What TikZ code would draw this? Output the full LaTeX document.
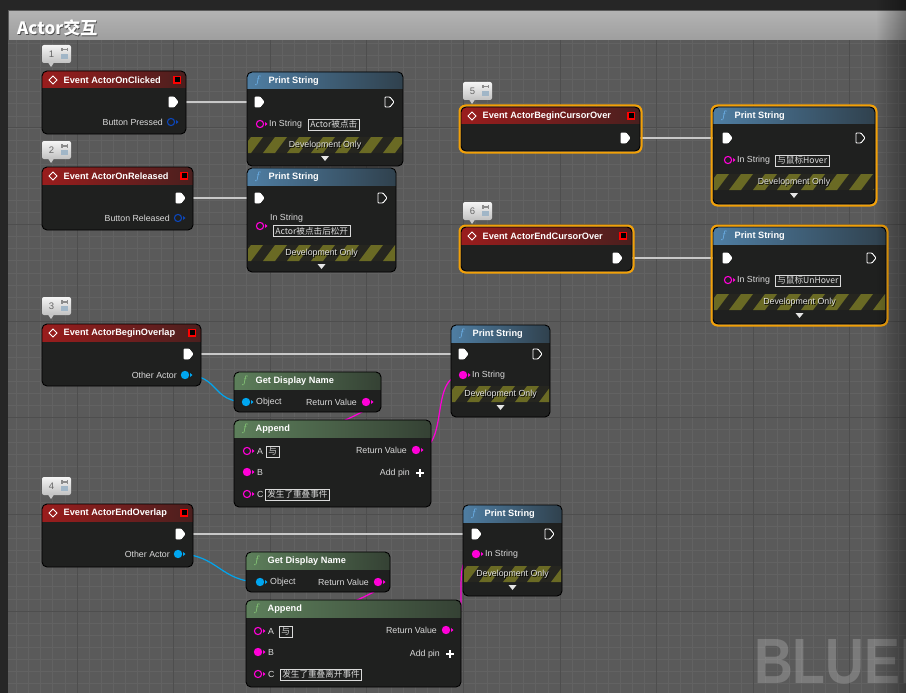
\documentclass[tikz,border=0pt]{standalone}
\usepackage{fontspec}
\setmainfont{Liberation Sans}
\newfontfamily\cjk{Noto Sans CJK SC}
\usepackage{tikz}
\usetikzlibrary{fadings}

\definecolor{outerbg}{HTML}{262626}
\definecolor{combg}{HTML}{5A5A5A}
\definecolor{gridminor}{HTML}{626262}
\definecolor{gridmajor}{HTML}{4E4E4E}
\definecolor{commhead}{HTML}{A4A4A4}
\definecolor{nodebg}{HTML}{1F201F}
\definecolor{evred}{HTML}{9A1D1D}
\definecolor{psblue}{HTML}{4F7EA3}
\definecolor{fngreen}{HTML}{5D7F5B}
\definecolor{iconblue}{HTML}{6FB6F0}
\definecolor{icongreen}{HTML}{8AD07A}
\definecolor{stripeolive}{HTML}{6A6A24}
\definecolor{stripedark}{HTML}{26261F}
\definecolor{pinmagenta}{HTML}{FF00D8}
\definecolor{objcyan}{HTML}{00A6F0}
\definecolor{boolblue}{HTML}{0C46B8}
\definecolor{labelgray}{HTML}{DADADA}
\definecolor{wirewhite}{HTML}{C8C8C8}
\definecolor{selorange}{HTML}{F2A007}

\pgfdeclarelayer{grid}
\pgfdeclarelayer{wires}
\pgfsetlayers{grid,wires,main}

\tikzset{
  hdrtext/.style={font=\fontsize{9.2}{10}\selectfont\bfseries, text=white, inner sep=0pt, anchor=west},
  pinlabel/.style={font=\fontsize{8.8}{10}\selectfont, text=labelgray, inner sep=0pt},
  valbox/.style={draw=labelgray, line width=0.6pt, font=\cjk\fontsize{8.6}{9}\selectfont, text=labelgray, inner xsep=2pt, inner ysep=1.5pt, anchor=west},
  execwire/.style={draw=wirewhite, line width=1.5pt},
  strwire/.style={draw=pinmagenta, line width=1.2pt},
  objwire/.style={draw=objcyan, line width=1.2pt},
  selring/.style={draw=selorange, line width=2pt, rounded corners=6pt},
}

% node body: name, x1, y1, x2, y2, header colour, title
\newcommand{\bpnode}[7]{%
  \fill[nodebg, rounded corners=5pt] (#2,#3) rectangle (#4,#5);
  \begin{scope}
    \clip[rounded corners=5pt] (#2,#3) rectangle (#4,#5);
    \shade[left color=#6, right color=#6!35!nodebg] (#2,#3) rectangle (#4,#3+17);
  \end{scope}
  \draw[black, line width=0.9pt, rounded corners=5pt] (#2,#3) rectangle (#4,#5);
  \node[hdrtext] (#1) at (#2+21.5,#3+9) {#7};
}
% event node: name, x1, y1, x2, y2, title
\newcommand{\eventnode}[6]{%
  \bpnode{#1}{#2}{#3}{#4}{#5}{evred}{#6}
  \draw[white, line width=1pt] (#2+7,#3+9) -- (#2+11,#3+5) -- (#2+15,#3+9) -- (#2+11,#3+13) -- cycle;
  \filldraw[draw=red, fill=black, line width=1.2pt] (#4-12,#3+5.5) rectangle (#4-5.5,#3+12);
}
% function node: name, x1, y1, x2, y2, header colour, icon colour, title
\newcommand{\funcnode}[8]{%
  \bpnode{#1}{#2}{#3}{#4}{#5}{#6}{#8}
  \node[text=#7, inner sep=0pt, font=\fontsize{11}{11}\selectfont] at (#2+11,#3+9) {$f$};
}
% exec pin: name, x, y, fill
\newcommand{\execpin}[4]{%
  \coordinate (#1) at (#2,#3);
  \filldraw[draw=white, fill=#4, line width=0.9pt, rounded corners=0.8pt]
    (#2-4,#3-5) -- (#2+1,#3-5) -- (#2+5,#3) -- (#2+1,#3+5) -- (#2-4,#3+5) -- cycle;
}
% data pin: name, x, y, colour, fill
\newcommand{\datapin}[5]{%
  \coordinate (#1) at (#2,#3);
  \filldraw[draw=#4, fill=#5, line width=1.1pt] (#1) circle (3.6pt);
  \fill[#4] (#2+5,#3-2) -- (#2+7.5,#3) -- (#2+5,#3+2) -- cycle;
}
% development band: x1, x2, ytop
\newcommand{\devband}[3]{%
  \begin{scope}
    \clip (#1+1,#3) rectangle (#2-1,#3+16);
    \fill[stripedark] (#1,#3) rectangle (#2,#3+16);
    \foreach \s in {0,24,...,240}
      \fill[stripeolive] (#1+\s-8,#3+16) -- (#1+\s+4,#3+16) -- (#1+\s+16,#3) -- (#1+\s+4,#3) -- cycle;
  \end{scope}
  \node[pinlabel, text=black] at ({(#1+#2)/2+0.8},#3+8.8) {Development Only};
  \node[pinlabel, text=white!88!black] at ({(#1+#2)/2},#3+8) {Development Only};
  \fill[white!90!black] ({(#1+#2)/2-4},#3+19) -- ({(#1+#2)/2+4},#3+19) -- ({(#1+#2)/2},#3+24) -- cycle;
}
% comment bubble: name, x, y, number
\newcommand{\bubble}[4]{%
  \shade[top color=white!96!black, bottom color=white!76!black, rounded corners=2pt] (#2,#3) rectangle (#2+29,#3+18);
  \fill[white!78!black] (#2+6,#3+17.5) -- (#2+9,#3+22) -- (#2+12,#3+17.5) -- cycle;
  \node[font=\fontsize{9.5}{10}\selectfont, text=black!60, inner sep=0pt] (#1) at (#2+9.5,#3+9.5) {#4};
  \fill[black!45] (#2+19,#3+4) rectangle (#2+26,#3+5.5);
  \fill[black!45] (#2+19,#3+3) rectangle (#2+20.5,#3+6.5);
  \fill[black!45] (#2+24.5,#3+3) rectangle (#2+26,#3+6.5);
  \fill[iconblue!60!black!50] (#2+19,#3+9) rectangle (#2+26,#3+14);
}
% plus sign for "Add pin"
\newcommand{\addplus}[2]{%
  \draw[white, line width=1.7pt] (#1-4,#2) -- (#1+4,#2) (#1,#2-4) -- (#1,#2+4);
}

\begin{document}
\begin{tikzpicture}[x=1pt, y=-1pt]
  \useasboundingbox (0,0) rectangle (906,693);

  % Graph background and comment box
  \begin{pgfonlayer}{grid}
    \fill[outerbg] (0,0) rectangle (906,693);
    \fill[combg] (8,10) rectangle (906,693);
    \begin{scope}
      \clip (8,40) rectangle (906,693);
      \foreach \i in {0,...,75} {
        \draw[gridminor, line width=0.8pt] ({4.55+\i*12.075},40) -- ({4.55+\i*12.075},693);
      }
      \foreach \i in {0,...,57} {
        \draw[gridminor, line width=0.8pt] (8,{7.25+\i*12.075}) -- (906,{7.25+\i*12.075});
      }
      \foreach \i in {0,...,9} {
        \draw[gridmajor, line width=1pt] ({77+\i*96.6},40) -- ({77+\i*96.6},693);
      }
      \foreach \i in {0,...,6} {
        \draw[gridmajor, line width=1pt] (8,{31.4+\i*96.6}) -- (906,{31.4+\i*96.6});
      }
      \node[font=\fontsize{64}{64}\selectfont\bfseries, text=white, opacity=0.2, inner sep=0pt, anchor=base west, xscale=0.84] (wmark) at (754,683) {BLUEPRINT};
    \end{scope}
    \shade[top color=white!70!black, bottom color=white!62!black] (9,12) rectangle (906,40);
    \node[font=\cjk\fontsize{17}{18}\selectfont\bfseries, text=black!70, inner sep=0pt, anchor=west] at (17.8,29) {Actor交互};
    \node[font=\cjk\fontsize{17}{18}\selectfont\bfseries, text=white, inner sep=0pt, anchor=west] (ctitle) at (17,28) {Actor交互};
  \end{pgfonlayer}

  % 1: clicked
  \bubble{b1}{42}{45}{1}
  \eventnode{ev1}{42}{71}{186}{134}{Event ActorOnClicked}
  \execpin{ev1-out}{173}{102}{white}
  \node[pinlabel, anchor=east] at (163,122) {Button Pressed};
  \datapin{ev1-btn}{171}{122}{boolblue}{nodebg}

  \funcnode{ps1}{247}{72}{403}{166}{psblue}{iconblue}{Print String}
  \execpin{ps1-in}{259}{102}{white}
  \execpin{ps1-out}{389}{102}{nodebg}
  \datapin{ps1-str}{260}{124}{pinmagenta}{nodebg}
  \node[pinlabel, anchor=west] at (269,124) {In String};
  \node[valbox] at (308,124.5) {Actor被点击};
  \devband{247}{403}{137}

  % 2: released
  \bubble{b2}{42}{141}{2}
  \eventnode{ev2}{42}{167}{193}{230}{Event ActorOnReleased}
  \execpin{ev2-out}{180}{198}{white}
  \node[pinlabel, anchor=east] at (170,218) {Button Released};
  \datapin{ev2-btn}{178}{218}{boolblue}{nodebg}

  \funcnode{ps2}{247}{168}{396}{272}{psblue}{iconblue}{Print String}
  \execpin{ps2-in}{259}{198}{white}
  \execpin{ps2-out}{382}{198}{nodebg}
  \node[pinlabel, anchor=west] at (270,218) {In String};
  \datapin{ps2-str}{260}{226}{pinmagenta}{nodebg}
  \node[valbox] at (273,231) {Actor被点击后松开};
  \devband{247}{396}{245}

  % 5: cursor over
  \bubble{b5}{463}{82}{5}
  \eventnode{ev5}{461}{107}{640}{151}{Event ActorBeginCursorOver}
  \draw[selring] (459.5,105.5) rectangle (641.5,152.5);
  \execpin{ev5-out}{625}{138}{white}

  \funcnode{ps5}{713}{107}{875}{204}{psblue}{iconblue}{Print String}
  \draw[selring] (711.5,105.5) rectangle (876.5,205.5);
  \execpin{ps5-in}{727}{138}{white}
  \execpin{ps5-out}{860}{138}{nodebg}
  \datapin{ps5-str}{728}{160}{pinmagenta}{nodebg}
  \node[pinlabel, anchor=west] at (737,160) {In String};
  \node[valbox] at (775,160.5) {与鼠标Hover};
  \devband{713}{875}{174}

  % 6: cursor leave
  \bubble{b6}{463}{202}{6}
  \eventnode{ev6}{461}{227}{632}{271}{Event ActorEndCursorOver}
  \draw[selring] (459.5,225.5) rectangle (633.5,272.5);
  \execpin{ev6-out}{617}{258}{white}

  \funcnode{ps6}{713}{227}{886}{324}{psblue}{iconblue}{Print String}
  \draw[selring] (711.5,225.5) rectangle (887.5,325.5);
  \execpin{ps6-in}{727}{258}{white}
  \execpin{ps6-out}{871}{258}{nodebg}
  \datapin{ps6-str}{728}{280}{pinmagenta}{nodebg}
  \node[pinlabel, anchor=west] at (737,280) {In String};
  \node[valbox] at (775,280.5) {与鼠标UnHover};
  \devband{713}{886}{294}

  % 3: begin overlap
  \bubble{b3}{42}{297}{3}
  \eventnode{ev3}{42}{324}{201}{386}{Event ActorBeginOverlap}
  \execpin{ev3-out}{188}{354}{white}
  \node[pinlabel, anchor=east] at (177,375) {Other Actor};
  \datapin{ev3-act}{185}{375}{objcyan}{objcyan}

  \funcnode{g3}{234}{372}{381}{412}{fngreen}{icongreen}{Get Display Name}
  \datapin{g3-obj}{246}{402}{objcyan}{objcyan}
  \node[pinlabel, anchor=west] at (256,402) {Object};
  \node[pinlabel, anchor=east] at (357,402) {Return Value};
  \datapin{g3-ret}{366}{402}{pinmagenta}{pinmagenta}

  \funcnode{a3}{234}{420}{431}{507}{fngreen}{icongreen}{Append}
  \datapin{a3-a}{247}{451}{pinmagenta}{nodebg}
  \node[pinlabel, anchor=west] at (257,451) {A};
  \node[valbox] at (266,451.5) {与};
  \datapin{a3-b}{247}{472}{pinmagenta}{pinmagenta}
  \node[pinlabel, anchor=west] at (257,472) {B};
  \datapin{a3-c}{247}{494}{pinmagenta}{nodebg}
  \node[pinlabel, anchor=west] at (257,494) {C};
  \node[valbox] at (265,494.5) {发生了重叠事件};
  \node[pinlabel, anchor=east] at (407,450) {Return Value};
  \datapin{a3-ret}{416}{450}{pinmagenta}{pinmagenta}
  \node[pinlabel, anchor=east] at (410,473) {Add pin};
  \addplus{420}{473}

  \funcnode{ps3}{451}{325}{550}{417}{psblue}{iconblue}{Print String}
  \execpin{ps3-in}{463}{354}{white}
  \execpin{ps3-out}{537}{354}{nodebg}
  \datapin{ps3-str}{463}{375}{pinmagenta}{pinmagenta}
  \node[pinlabel, anchor=west] at (472,375) {In String};
  \devband{451}{550}{386}

  % 4: end overlap
  \bubble{b4}{42}{477}{4}
  \eventnode{ev4}{42}{504}{193}{567}{Event ActorEndOverlap}
  \execpin{ev4-out}{180}{534}{white}
  \node[pinlabel, anchor=east] at (170,554) {Other Actor};
  \datapin{ev4-act}{178}{554}{objcyan}{objcyan}

  \funcnode{g4}{246}{552}{390}{592}{fngreen}{icongreen}{Get Display Name}
  \datapin{g4-obj}{260}{582}{objcyan}{objcyan}
  \node[pinlabel, anchor=west] at (270,582) {Object};
  \node[pinlabel, anchor=east] at (369,582) {Return Value};
  \datapin{g4-ret}{378}{582}{pinmagenta}{pinmagenta}

  \funcnode{a4}{246}{600}{461}{687}{fngreen}{icongreen}{Append}
  \datapin{a4-a}{258}{631}{pinmagenta}{nodebg}
  \node[pinlabel, anchor=west] at (268,631) {A};
  \node[valbox] at (279,631.5) {与};
  \datapin{a4-b}{258}{652}{pinmagenta}{pinmagenta}
  \node[pinlabel, anchor=west] at (268,652) {B};
  \datapin{a4-c}{258}{674}{pinmagenta}{nodebg}
  \node[pinlabel, anchor=west] at (268,674) {C};
  \node[valbox] at (280,674.5) {发生了重叠离开事件};
  \node[pinlabel, anchor=east] at (437,630) {Return Value};
  \datapin{a4-ret}{446}{630}{pinmagenta}{pinmagenta}
  \node[pinlabel, anchor=east] at (440,654) {Add pin};
  \addplus{450}{654}

  \funcnode{ps4}{463}{505}{562}{596}{psblue}{iconblue}{Print String}
  \execpin{ps4-in}{476}{534}{white}
  \execpin{ps4-out}{549}{534}{nodebg}
  \datapin{ps4-str}{476}{554}{pinmagenta}{pinmagenta}
  \node[pinlabel, anchor=west] at (485,554) {In String};
  \devband{463}{562}{566}

  % Wires (behind the nodes)
  \begin{pgfonlayer}{wires}
    \draw[execwire] (ev1-out) -- (ps1-in);
    \draw[execwire] (ev2-out) -- (ps2-in);
    \draw[execwire] (ev5-out) -- (ps5-in);
    \draw[execwire] (ev6-out) -- (ps6-in);
    \draw[execwire] (ev3-out) -- (ps3-in);
    \draw[execwire] (ev4-out) -- (ps4-in);

    \draw[objwire] (ev3-act) .. controls +(35,0) and +(-35,0) .. (g3-obj);
    \draw[strwire] (g3-ret) .. controls +(45,0) and +(-45,0) .. (a3-b);
    \draw[strwire] (a3-ret) .. controls +(35,0) and +(-35,0) .. (ps3-str);

    \draw[objwire] (ev4-act) .. controls +(40,0) and +(-40,0) .. (g4-obj);
    \draw[strwire] (g4-ret) .. controls +(45,0) and +(-45,0) .. (a4-b);
    \draw[strwire] (a4-ret) .. controls +(30,0) and +(-30,0) .. (ps4-str);
  \end{pgfonlayer}

  % right edge shading
  \fill[black, path fading=west, opacity=0.35] (876,0) rectangle (906,693);
\end{tikzpicture}
\end{document}
